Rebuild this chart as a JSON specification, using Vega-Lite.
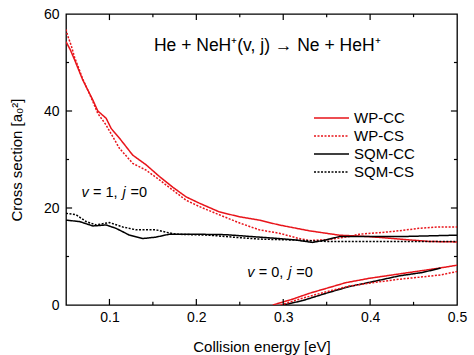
{
  "$schema": "https://vega.github.io/schema/vega-lite/v6.json",
  "width": 391,
  "height": 291,
  "autosize": "none",
  "padding": {"left": 66, "top": 14, "right": 17, "bottom": 50},
  "config": {
    "font": "Liberation Sans",
    "view": {"stroke": "#000", "strokeWidth": 1.3},
    "axis": {"grid": false, "domain": false, "ticks": false, "labelFontSize": 14, "titleFontSize": 15, "titleFontWeight": "normal", "labelColor": "#000", "titleColor": "#000", "labelOverlap": false, "labelFlush": false},
    "rule": {"color": "#000", "strokeWidth": 1.2, "opacity": 1}
  },
  "datasets": {
    "curves": [
      {"series": "WP-CC", "branch": "v1", "e": 0.05, "cs": 54.3},
      {"series": "WP-CC", "branch": "v1", "e": 0.055, "cs": 52.6},
      {"series": "WP-CC", "branch": "v1", "e": 0.06, "cs": 50.5},
      {"series": "WP-CC", "branch": "v1", "e": 0.0693, "cs": 46.4},
      {"series": "WP-CC", "branch": "v1", "e": 0.0808, "cs": 42.3},
      {"series": "WP-CC", "branch": "v1", "e": 0.0866, "cs": 40.0},
      {"series": "WP-CC", "branch": "v1", "e": 0.0962, "cs": 38.5},
      {"series": "WP-CC", "branch": "v1", "e": 0.102, "cs": 36.4},
      {"series": "WP-CC", "branch": "v1", "e": 0.1115, "cs": 34.4},
      {"series": "WP-CC", "branch": "v1", "e": 0.1268, "cs": 30.9},
      {"series": "WP-CC", "branch": "v1", "e": 0.1422, "cs": 28.9},
      {"series": "WP-CC", "branch": "v1", "e": 0.1575, "cs": 26.5},
      {"series": "WP-CC", "branch": "v1", "e": 0.1728, "cs": 24.3},
      {"series": "WP-CC", "branch": "v1", "e": 0.1882, "cs": 22.3},
      {"series": "WP-CC", "branch": "v1", "e": 0.2034, "cs": 21.0},
      {"series": "WP-CC", "branch": "v1", "e": 0.2264, "cs": 19.2},
      {"series": "WP-CC", "branch": "v1", "e": 0.2494, "cs": 18.2},
      {"series": "WP-CC", "branch": "v1", "e": 0.2724, "cs": 17.5},
      {"series": "WP-CC", "branch": "v1", "e": 0.2954, "cs": 16.5},
      {"series": "WP-CC", "branch": "v1", "e": 0.33, "cs": 15.3},
      {"series": "WP-CC", "branch": "v1", "e": 0.3644, "cs": 14.4},
      {"series": "WP-CC", "branch": "v1", "e": 0.399, "cs": 14.1},
      {"series": "WP-CC", "branch": "v1", "e": 0.4333, "cs": 13.6},
      {"series": "WP-CC", "branch": "v1", "e": 0.4678, "cs": 13.1},
      {"series": "WP-CC", "branch": "v1", "e": 0.5, "cs": 13.0},
      {"series": "WP-CS", "branch": "v1", "e": 0.05, "cs": 56.8},
      {"series": "WP-CS", "branch": "v1", "e": 0.052, "cs": 55.5},
      {"series": "WP-CS", "branch": "v1", "e": 0.056, "cs": 53.5},
      {"series": "WP-CS", "branch": "v1", "e": 0.06, "cs": 51.0},
      {"series": "WP-CS", "branch": "v1", "e": 0.0693, "cs": 46.6},
      {"series": "WP-CS", "branch": "v1", "e": 0.0808, "cs": 42.0},
      {"series": "WP-CS", "branch": "v1", "e": 0.0866, "cs": 39.5},
      {"series": "WP-CS", "branch": "v1", "e": 0.0962, "cs": 37.1},
      {"series": "WP-CS", "branch": "v1", "e": 0.1115, "cs": 32.3},
      {"series": "WP-CS", "branch": "v1", "e": 0.1268, "cs": 29.2},
      {"series": "WP-CS", "branch": "v1", "e": 0.1422, "cs": 27.8},
      {"series": "WP-CS", "branch": "v1", "e": 0.1575, "cs": 25.8},
      {"series": "WP-CS", "branch": "v1", "e": 0.1728, "cs": 23.7},
      {"series": "WP-CS", "branch": "v1", "e": 0.1882, "cs": 21.6},
      {"series": "WP-CS", "branch": "v1", "e": 0.2034, "cs": 20.3},
      {"series": "WP-CS", "branch": "v1", "e": 0.2264, "cs": 18.6},
      {"series": "WP-CS", "branch": "v1", "e": 0.25, "cs": 16.9},
      {"series": "WP-CS", "branch": "v1", "e": 0.2724, "cs": 15.5},
      {"series": "WP-CS", "branch": "v1", "e": 0.2954, "cs": 14.8},
      {"series": "WP-CS", "branch": "v1", "e": 0.3184, "cs": 13.7},
      {"series": "WP-CS", "branch": "v1", "e": 0.33, "cs": 13.3},
      {"series": "WP-CS", "branch": "v1", "e": 0.3529, "cs": 13.5},
      {"series": "WP-CS", "branch": "v1", "e": 0.3759, "cs": 14.1},
      {"series": "WP-CS", "branch": "v1", "e": 0.3874, "cs": 14.6},
      {"series": "WP-CS", "branch": "v1", "e": 0.4104, "cs": 14.9},
      {"series": "WP-CS", "branch": "v1", "e": 0.4333, "cs": 15.3},
      {"series": "WP-CS", "branch": "v1", "e": 0.4563, "cs": 15.8},
      {"series": "WP-CS", "branch": "v1", "e": 0.4793, "cs": 16.1},
      {"series": "WP-CS", "branch": "v1", "e": 0.5, "cs": 16.1},
      {"series": "SQM-CC", "branch": "v1", "e": 0.05, "cs": 17.5},
      {"series": "SQM-CC", "branch": "v1", "e": 0.0655, "cs": 17.2},
      {"series": "SQM-CC", "branch": "v1", "e": 0.081, "cs": 16.3},
      {"series": "SQM-CC", "branch": "v1", "e": 0.0962, "cs": 16.5},
      {"series": "SQM-CC", "branch": "v1", "e": 0.1077, "cs": 15.8},
      {"series": "SQM-CC", "branch": "v1", "e": 0.123, "cs": 14.4},
      {"series": "SQM-CC", "branch": "v1", "e": 0.1383, "cs": 13.7},
      {"series": "SQM-CC", "branch": "v1", "e": 0.1537, "cs": 14.0},
      {"series": "SQM-CC", "branch": "v1", "e": 0.169, "cs": 14.6},
      {"series": "SQM-CC", "branch": "v1", "e": 0.1958, "cs": 14.6},
      {"series": "SQM-CC", "branch": "v1", "e": 0.2341, "cs": 14.5},
      {"series": "SQM-CC", "branch": "v1", "e": 0.272, "cs": 14.0},
      {"series": "SQM-CC", "branch": "v1", "e": 0.2954, "cs": 13.7},
      {"series": "SQM-CC", "branch": "v1", "e": 0.3146, "cs": 13.4},
      {"series": "SQM-CC", "branch": "v1", "e": 0.3337, "cs": 12.9},
      {"series": "SQM-CC", "branch": "v1", "e": 0.349, "cs": 13.4},
      {"series": "SQM-CC", "branch": "v1", "e": 0.3644, "cs": 14.1},
      {"series": "SQM-CC", "branch": "v1", "e": 0.4, "cs": 14.1},
      {"series": "SQM-CC", "branch": "v1", "e": 0.4333, "cs": 14.1},
      {"series": "SQM-CC", "branch": "v1", "e": 0.5, "cs": 14.4},
      {"series": "SQM-CS", "branch": "v1", "e": 0.05, "cs": 18.9},
      {"series": "SQM-CS", "branch": "v1", "e": 0.0617, "cs": 18.6},
      {"series": "SQM-CS", "branch": "v1", "e": 0.0732, "cs": 17.2},
      {"series": "SQM-CS", "branch": "v1", "e": 0.0847, "cs": 16.5},
      {"series": "SQM-CS", "branch": "v1", "e": 0.1, "cs": 17.0},
      {"series": "SQM-CS", "branch": "v1", "e": 0.1153, "cs": 16.1},
      {"series": "SQM-CS", "branch": "v1", "e": 0.1307, "cs": 15.5},
      {"series": "SQM-CS", "branch": "v1", "e": 0.1537, "cs": 15.5},
      {"series": "SQM-CS", "branch": "v1", "e": 0.1652, "cs": 15.0},
      {"series": "SQM-CS", "branch": "v1", "e": 0.1767, "cs": 14.6},
      {"series": "SQM-CS", "branch": "v1", "e": 0.215, "cs": 14.4},
      {"series": "SQM-CS", "branch": "v1", "e": 0.2414, "cs": 14.0},
      {"series": "SQM-CS", "branch": "v1", "e": 0.272, "cs": 13.6},
      {"series": "SQM-CS", "branch": "v1", "e": 0.3107, "cs": 13.4},
      {"series": "SQM-CS", "branch": "v1", "e": 0.35, "cs": 13.1},
      {"series": "SQM-CS", "branch": "v1", "e": 0.4, "cs": 13.1},
      {"series": "SQM-CS", "branch": "v1", "e": 0.5, "cs": 13.1},
      {"series": "WP-CC", "branch": "v0", "e": 0.288, "cs": 0},
      {"series": "WP-CC", "branch": "v0", "e": 0.3107, "cs": 1.2},
      {"series": "WP-CC", "branch": "v0", "e": 0.3299, "cs": 2.4},
      {"series": "WP-CC", "branch": "v0", "e": 0.349, "cs": 3.4},
      {"series": "WP-CC", "branch": "v0", "e": 0.372, "cs": 4.6},
      {"series": "WP-CC", "branch": "v0", "e": 0.399, "cs": 5.5},
      {"series": "WP-CC", "branch": "v0", "e": 0.4257, "cs": 6.2},
      {"series": "WP-CC", "branch": "v0", "e": 0.4525, "cs": 6.9},
      {"series": "WP-CC", "branch": "v0", "e": 0.4793, "cs": 7.6},
      {"series": "WP-CC", "branch": "v0", "e": 0.5, "cs": 8.2},
      {"series": "SQM-CC", "branch": "v0", "e": 0.3, "cs": 0},
      {"series": "SQM-CC", "branch": "v0", "e": 0.3222, "cs": 0.9},
      {"series": "SQM-CC", "branch": "v0", "e": 0.349, "cs": 2.4},
      {"series": "SQM-CC", "branch": "v0", "e": 0.3759, "cs": 3.8},
      {"series": "SQM-CC", "branch": "v0", "e": 0.4027, "cs": 4.8},
      {"series": "SQM-CC", "branch": "v0", "e": 0.4333, "cs": 6.0},
      {"series": "SQM-CC", "branch": "v0", "e": 0.4601, "cs": 6.7},
      {"series": "SQM-CC", "branch": "v0", "e": 0.4812, "cs": 7.6},
      {"series": "WP-CS", "branch": "v0", "e": 0.297, "cs": 0},
      {"series": "WP-CS", "branch": "v0", "e": 0.3222, "cs": 1.4},
      {"series": "WP-CS", "branch": "v0", "e": 0.349, "cs": 2.7},
      {"series": "WP-CS", "branch": "v0", "e": 0.3759, "cs": 3.9},
      {"series": "WP-CS", "branch": "v0", "e": 0.4027, "cs": 4.6},
      {"series": "WP-CS", "branch": "v0", "e": 0.4333, "cs": 5.3},
      {"series": "WP-CS", "branch": "v0", "e": 0.4601, "cs": 5.8},
      {"series": "WP-CS", "branch": "v0", "e": 0.4812, "cs": 6.2},
      {"series": "WP-CS", "branch": "v0", "e": 0.5, "cs": 6.9}
    ],
    "title": [
      {"e": 0.2816, "cs": 53.4, "label": "He + NeH⁺(v, j) → Ne + HeH⁺"}
    ],
    "notes": [
      {"e": 0.0678, "cs": 23.1, "num": "= 1,"},
      {"e": 0.2586, "cs": 6.6, "num": "= 0,"}
    ],
    "xmajor": [{"e": 0.1}, {"e": 0.2}, {"e": 0.3}, {"e": 0.4}],
    "xminor": [{"e": 0.15}, {"e": 0.25}, {"e": 0.35}, {"e": 0.45}],
    "ymajor": [{"cs": 20}, {"cs": 40}],
    "yminor": [{"cs": 10}, {"cs": 30}, {"cs": 50}]
  },
  "layer": [
    {
      "data": {"name": "curves"},
      "mark": {"type": "line", "strokeWidth": 1.5, "clip": true},
      "encoding": {
        "x": {"field": "e", "type": "quantitative", "scale": {"domain": [0.05, 0.5], "nice": false, "zero": false},
          "axis": {"orient": "bottom", "title": "Collision energy [eV]", "values": [0.1, 0.2, 0.3, 0.4, 0.5], "format": ".1f",
            "labelPadding": 5, "titlePadding": 15}},
        "y": {"field": "cs", "type": "quantitative", "scale": {"domain": [0, 60], "nice": false},
          "axis": {"orient": "left", "title": "Cross section [a₀²]", "values": [0, 20, 40, 60], "format": "d",
            "labelPadding": 7, "titlePadding": 19}},
        "color": {"field": "series", "type": "nominal", "scale": {"domain": ["WP-CC", "WP-CS", "SQM-CC", "SQM-CS"], "range": ["#e8141a", "#e8141a", "#000000", "#000000"]},
          "legend": {"orient": "none", "legendX": 247, "legendY": 95, "title": null, "symbolType": "stroke", "symbolSize": 1225, "symbolStrokeWidth": 1.5, "labelFontSize": 15, "labelColor": "#000", "rowPadding": 0, "clipHeight": 18, "labelOffset": 4}},
        "strokeDash": {"field": "series", "type": "nominal", "scale": {"domain": ["WP-CC", "WP-CS", "SQM-CC", "SQM-CS"], "range": [[1, 0], [2, 1.5], [1, 0], [2, 1.5]]},
          "legend": {"orient": "none", "legendX": 247, "legendY": 95, "title": null, "symbolType": "stroke", "symbolSize": 1225, "symbolStrokeWidth": 1.5, "labelFontSize": 15, "labelColor": "#000", "rowPadding": 0, "clipHeight": 18, "labelOffset": 4}},
        "detail": {"field": "branch", "type": "nominal"}
      }
    },
    {
      "data": {"name": "title"},
      "mark": {"type": "text", "fontSize": 17.5, "color": "#000", "baseline": "middle", "align": "center"},
      "encoding": {
        "x": {"field": "e", "type": "quantitative"},
        "y": {"field": "cs", "type": "quantitative"},
        "text": {"field": "label"}
      }
    },
    {
      "data": {"name": "notes"},
      "mark": {"type": "text", "fontSize": 14.5, "fontStyle": "italic", "color": "#000", "baseline": "middle", "align": "left", "dx": 0},
      "encoding": {
        "x": {"field": "e", "type": "quantitative"},
        "y": {"field": "cs", "type": "quantitative"},
        "text": {"value": "v"}
      }
    },
    {
      "data": {"name": "notes"},
      "mark": {"type": "text", "fontSize": 14.5, "color": "#000", "baseline": "middle", "align": "left", "dx": 11.5},
      "encoding": {
        "x": {"field": "e", "type": "quantitative"},
        "y": {"field": "cs", "type": "quantitative"},
        "text": {"field": "num"}
      }
    },
    {
      "data": {"name": "notes"},
      "mark": {"type": "text", "fontSize": 14.5, "fontStyle": "italic", "color": "#000", "baseline": "middle", "align": "left", "dx": 41},
      "encoding": {
        "x": {"field": "e", "type": "quantitative"},
        "y": {"field": "cs", "type": "quantitative"},
        "text": {"value": "j"}
      }
    },
    {
      "data": {"name": "notes"},
      "mark": {"type": "text", "fontSize": 14.5, "color": "#000", "baseline": "middle", "align": "left", "dx": 49},
      "encoding": {
        "x": {"field": "e", "type": "quantitative"},
        "y": {"field": "cs", "type": "quantitative"},
        "text": {"value": "=0"}
      }
    },
    {
      "data": {"name": "xmajor"},
      "mark": {"type": "rule"},
      "encoding": {"x": {"field": "e", "type": "quantitative"}, "y": {"datum": 0, "type": "quantitative"}, "y2": {"datum": 1.25}}
    },
    {
      "data": {"name": "xmajor"},
      "mark": {"type": "rule"},
      "encoding": {"x": {"field": "e", "type": "quantitative"}, "y": {"datum": 60, "type": "quantitative"}, "y2": {"datum": 58.75}}
    },
    {
      "data": {"name": "xminor"},
      "mark": {"type": "rule"},
      "encoding": {"x": {"field": "e", "type": "quantitative"}, "y": {"datum": 0, "type": "quantitative"}, "y2": {"datum": 0.65}}
    },
    {
      "data": {"name": "xminor"},
      "mark": {"type": "rule"},
      "encoding": {"x": {"field": "e", "type": "quantitative"}, "y": {"datum": 60, "type": "quantitative"}, "y2": {"datum": 59.35}}
    },
    {
      "data": {"name": "ymajor"},
      "mark": {"type": "rule"},
      "encoding": {"y": {"field": "cs", "type": "quantitative"}, "x": {"datum": 0.05, "type": "quantitative"}, "x2": {"datum": 0.057}}
    },
    {
      "data": {"name": "ymajor"},
      "mark": {"type": "rule"},
      "encoding": {"y": {"field": "cs", "type": "quantitative"}, "x": {"datum": 0.5, "type": "quantitative"}, "x2": {"datum": 0.493}}
    },
    {
      "data": {"name": "yminor"},
      "mark": {"type": "rule"},
      "encoding": {"y": {"field": "cs", "type": "quantitative"}, "x": {"datum": 0.05, "type": "quantitative"}, "x2": {"datum": 0.0535}}
    },
    {
      "data": {"name": "yminor"},
      "mark": {"type": "rule"},
      "encoding": {"y": {"field": "cs", "type": "quantitative"}, "x": {"datum": 0.5, "type": "quantitative"}, "x2": {"datum": 0.4965}}
    }
  ]
}
